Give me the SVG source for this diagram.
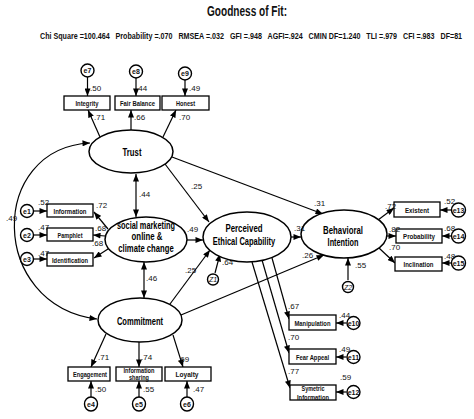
<svg xmlns="http://www.w3.org/2000/svg" width="474" height="419" viewBox="0 0 474 419">
<defs>
<marker id="a" viewBox="0 0 10 8" refX="10" refY="4" markerWidth="8" markerHeight="6" orient="auto-start-reverse" markerUnits="userSpaceOnUse"><path d="M0,0 L10,4 L0,8 z" fill="#000"/></marker>
</defs>
<style>
text{font-family:"Liberation Sans",Arial,sans-serif;fill:#111}
.t{font-size:14px;font-weight:bold}
.s{font-size:9px;font-weight:bold}
.lv{fill:#fff;stroke:#000;stroke-width:1.5}
.bx{fill:#fff;stroke:#000;stroke-width:1.3}
.er{fill:#fff;stroke:#000;stroke-width:1.4}
.ln{fill:#000;font-size:11px;font-weight:bold;text-anchor:middle}
.ln2{fill:#000;font-size:10px;font-weight:bold;text-anchor:middle}
.bl{font-size:8px;font-weight:bold;text-anchor:middle}
.el{font-size:7px;font-weight:bold;text-anchor:middle}
.z{font-size:7px;font-style:italic;text-anchor:middle}
.n{font-size:8px;fill:#222}
.c line,.c path{stroke:#000;stroke-width:1.2;fill:none;marker-end:url(#a)}
.c .d{marker-start:url(#a)}
</style>
<rect width="474" height="419" fill="#fff"/>
<text class="t" x="247" y="16" text-anchor="middle" textLength="80" lengthAdjust="spacingAndGlyphs">Goodness of Fit:</text>
<text class="s" transform="translate(40,39) scale(0.7,1)" x="0" y="0" textLength="603" lengthAdjust="spacingAndGlyphs" xml:space="preserve">Chi Square =100.464   Probability =.070   RMSEA =.032   GFI =.948   AGFI=.924   CMIN DF=1.240   TLI =.979   CFI =.983   DF=81</text>

<g class="c" id="connectors">
<path class="d" d="M90,143 C-12,148 -12,305 97,319"/>
<line x1="87.5" y1="77" x2="87.5" y2="96"/>
<line x1="136" y1="78" x2="136" y2="96"/>
<line x1="185" y1="80" x2="185" y2="96"/>
<line x1="100" y1="137" x2="88" y2="110"/>
<line x1="131" y1="130" x2="131" y2="110"/>
<line x1="163" y1="137" x2="176" y2="110"/>
<line class="d" x1="136" y1="174" x2="136" y2="217"/>
<line x1="165" y1="164" x2="209" y2="222"/>
<line x1="172" y1="157" x2="323" y2="214"/>
<line x1="34" y1="211" x2="47" y2="211"/>
<line x1="34" y1="235" x2="47" y2="235"/>
<line x1="34" y1="259" x2="47" y2="259"/>
<line x1="108" y1="229" x2="94" y2="212"/>
<line x1="105" y1="236" x2="93" y2="235"/>
<line x1="108" y1="249" x2="94" y2="258"/>
<line x1="187" y1="240" x2="203" y2="240"/>
<line class="d" x1="144" y1="262" x2="144" y2="298"/>
<line x1="170" y1="304" x2="210" y2="250"/>
<line x1="181" y1="315" x2="324" y2="255"/>
<line x1="215" y1="273" x2="220" y2="254"/>
<line x1="348" y1="280" x2="348" y2="258"/>
<line x1="291" y1="237" x2="301" y2="237"/>
<line x1="378" y1="220" x2="394" y2="208"/>
<line x1="387" y1="236" x2="396" y2="236"/>
<line x1="379" y1="248" x2="395" y2="263"/>
<line x1="451" y1="210" x2="440" y2="210"/>
<line x1="451" y1="236" x2="442" y2="236"/>
<line x1="451" y1="263" x2="442" y2="263"/>
<line x1="272" y1="258" x2="289" y2="319"/>
<line x1="262" y1="260" x2="289" y2="353"/>
<line x1="252" y1="262" x2="290" y2="388"/>
<line x1="346.5" y1="323" x2="336" y2="323"/>
<line x1="346.5" y1="357" x2="336" y2="357"/>
<line x1="346.5" y1="392" x2="336" y2="392"/>
<line x1="106" y1="334" x2="91" y2="367"/>
<line x1="139" y1="342" x2="139" y2="367"/>
<line x1="173" y1="335" x2="183" y2="367"/>
<line x1="91" y1="397" x2="91" y2="381"/>
<line x1="139" y1="397" x2="139" y2="381"/>
<line x1="187" y1="397" x2="187" y2="381"/>
</g>

<g id="trust"><ellipse class="lv" cx="131" cy="151.5" rx="42" ry="21.5"/><text class="ln" transform="translate(132,156) scale(0.7,1)" x="0" y="0" textLength="27" lengthAdjust="spacingAndGlyphs">Trust</text></g>
<g id="social"><ellipse class="lv" cx="146" cy="239.5" rx="41" ry="22.5"/>
<text class="ln2" transform="translate(146,228.5) scale(0.7,1)" x="0" y="0" textLength="83" lengthAdjust="spacingAndGlyphs">social marketing</text>
<text class="ln2" transform="translate(147,240) scale(0.7,1)" x="0" y="0" textLength="44" lengthAdjust="spacingAndGlyphs">online &amp;</text>
<text class="ln2" transform="translate(146,251.5) scale(0.7,1)" x="0" y="0" textLength="79" lengthAdjust="spacingAndGlyphs">climate change</text></g>
<g id="commitment"><ellipse class="lv" cx="140" cy="320" rx="42" ry="22"/><text class="ln" transform="translate(140,325) scale(0.7,1)" x="0" y="0" textLength="66" lengthAdjust="spacingAndGlyphs">Commitment</text></g>
<g id="perceived"><ellipse class="lv" cx="247" cy="237" rx="44" ry="25"/>
<text class="ln" transform="translate(244,232) scale(0.7,1)" x="0" y="0" textLength="53" lengthAdjust="spacingAndGlyphs">Perceived</text>
<text class="ln" transform="translate(244,245) scale(0.7,1)" x="0" y="0" textLength="89" lengthAdjust="spacingAndGlyphs">Ethical Capability</text></g>
<g id="behavioral"><ellipse class="lv" cx="344" cy="234" rx="43" ry="24"/>
<text class="ln2" transform="translate(343,234) scale(0.7,1)" x="0" y="0" textLength="57" lengthAdjust="spacingAndGlyphs">Behavioral</text>
<text class="ln2" transform="translate(343,245.5) scale(0.7,1)" x="0" y="0" textLength="44" lengthAdjust="spacingAndGlyphs">Intention</text></g>

<g id="integrity"><rect class="bx" x="64" y="96" width="46" height="14"/><text class="bl" x="87" y="106" textLength="23" lengthAdjust="spacingAndGlyphs">Integrity</text></g>
<g id="fairbalance"><rect class="bx" x="115" y="96" width="45" height="14"/><text class="bl" x="137.5" y="106" textLength="35" lengthAdjust="spacingAndGlyphs">Fair Balance</text></g>
<g id="honest"><rect class="bx" x="162" y="96" width="47" height="14"/><text class="bl" x="185.5" y="106" textLength="19" lengthAdjust="spacingAndGlyphs">Honest</text></g>
<g id="information"><rect class="bx" x="47" y="204" width="46" height="13"/><text class="bl" x="70" y="213.5" textLength="33" lengthAdjust="spacingAndGlyphs">Information</text></g>
<g id="pamphlet"><rect class="bx" x="47" y="228" width="46" height="13"/><text class="bl" x="70" y="237.5" textLength="25" lengthAdjust="spacingAndGlyphs">Pamphlet</text></g>
<g id="identification"><rect class="bx" x="47" y="253" width="46" height="13"/><text class="bl" x="70" y="262.5" textLength="36" lengthAdjust="spacingAndGlyphs">Identification</text></g>
<g id="engagement"><rect class="bx" x="68" y="367" width="42" height="14"/><text class="bl" x="90" y="377" textLength="34" lengthAdjust="spacingAndGlyphs">Engagement</text></g>
<g id="infosharing"><rect class="bx" x="116" y="367" width="46" height="14"/><text class="bl" x="139" y="372.5" textLength="31" lengthAdjust="spacingAndGlyphs">Information</text><text class="bl" x="139" y="380" textLength="20" lengthAdjust="spacingAndGlyphs">sharing</text></g>
<g id="loyalty"><rect class="bx" x="165" y="367" width="46" height="14"/><text class="bl" x="187" y="377" textLength="23" lengthAdjust="spacingAndGlyphs">Loyalty</text></g>
<g id="existent"><rect class="bx" x="394" y="202" width="46" height="15"/><text class="bl" x="417" y="212.5" textLength="24" lengthAdjust="spacingAndGlyphs">Existent</text></g>
<g id="probability"><rect class="bx" x="396" y="229" width="46" height="14"/><text class="bl" x="419" y="239" textLength="32" lengthAdjust="spacingAndGlyphs">Probability</text></g>
<g id="inclination"><rect class="bx" x="395" y="257" width="47" height="14"/><text class="bl" x="418.5" y="267" textLength="30" lengthAdjust="spacingAndGlyphs">Inclination</text></g>
<g id="manipulation"><rect class="bx" x="289" y="315" width="47" height="15"/><text class="bl" x="312.5" y="325.5" textLength="36" lengthAdjust="spacingAndGlyphs">Manipulation</text></g>
<g id="fearappeal"><rect class="bx" x="289" y="349" width="47" height="15"/><text class="bl" x="312.5" y="359.5" textLength="33" lengthAdjust="spacingAndGlyphs">Fear Appeal</text></g>
<g id="symetric"><rect class="bx" x="290" y="385" width="46" height="15"/><text class="bl" x="313" y="391" textLength="23" lengthAdjust="spacingAndGlyphs">Symetric</text><text class="bl" x="313" y="399.5" textLength="32" lengthAdjust="spacingAndGlyphs">Information</text></g>

<g id="e1"><ellipse class="er" cx="27" cy="211" rx="6.5" ry="6.5"/><text class="el" x="27" y="213.5">e1</text></g>
<g id="e2"><ellipse class="er" cx="27" cy="235" rx="6.5" ry="6.5"/><text class="el" x="27" y="237.5">e2</text></g>
<g id="e3"><ellipse class="er" cx="27" cy="259" rx="6.5" ry="6.5"/><text class="el" x="27" y="261.5">e3</text></g>
<g id="e4"><ellipse class="er" cx="91" cy="404" rx="6.5" ry="7"/><text class="el" x="91" y="406.5">e4</text></g>
<g id="e5"><ellipse class="er" cx="139" cy="404" rx="6.5" ry="7"/><text class="el" x="139" y="406.5">e5</text></g>
<g id="e6"><ellipse class="er" cx="187" cy="404" rx="6.5" ry="7"/><text class="el" x="187" y="406.5">e6</text></g>
<g id="e7"><ellipse class="er" cx="87.5" cy="70.5" rx="6.5" ry="6.5"/><text class="el" x="87.5" y="73">e7</text></g>
<g id="e8"><ellipse class="er" cx="136" cy="71.5" rx="6.5" ry="6.5"/><text class="el" x="136" y="74">e8</text></g>
<g id="e9"><ellipse class="er" cx="185" cy="73.5" rx="6.5" ry="6.5"/><text class="el" x="185" y="76">e9</text></g>
<g id="e10"><ellipse class="er" cx="353.5" cy="323" rx="6.5" ry="6.5"/><text class="el" x="353.5" y="325.5">e10</text></g>
<g id="e11"><ellipse class="er" cx="353.5" cy="357" rx="6.5" ry="6.5"/><text class="el" x="353.5" y="359.5">e11</text></g>
<g id="e12"><ellipse class="er" cx="353.5" cy="392" rx="6.5" ry="6.5"/><text class="el" x="353.5" y="394.5">e12</text></g>
<g id="e13"><ellipse class="er" cx="458.5" cy="210" rx="7" ry="7"/><text class="el" x="458.5" y="212.5">e13</text></g>
<g id="e14"><ellipse class="er" cx="458.5" cy="236" rx="7" ry="7"/><text class="el" x="458.5" y="238.5">e14</text></g>
<g id="e15"><ellipse class="er" cx="458.5" cy="263" rx="7" ry="7"/><text class="el" x="458.5" y="265.5">e15</text></g>
<g id="z1"><ellipse class="er" cx="213" cy="279.5" rx="5.5" ry="5.5"/><text class="z" x="213" y="282">Z1</text></g>
<g id="z2"><ellipse class="er" cx="348" cy="287" rx="5.5" ry="5.5"/><text class="z" x="348" y="289.5">Z2</text></g>

<g id="labels" class="n">
<text x="90" y="91">.50</text><text x="136" y="91">.44</text><text x="189" y="91">.49</text>
<text x="94" y="120">.71</text><text x="134" y="120">.66</text><text x="179" y="120">.70</text>
<text x="191" y="189">.25</text><text x="139" y="197">.44</text>
<text x="6" y="221">.49</text>
<text x="38" y="205">.52</text><text x="38" y="230">.47</text><text x="38" y="256">.47</text>
<text x="96" y="208">.72</text><text x="95" y="231">.68</text><text x="92" y="246">.68</text>
<text x="187" y="232">.49</text><text x="146" y="281">.46</text><text x="185" y="273">.25</text>
<text x="222" y="265">.64</text>
<text x="314" y="206">.31</text><text x="294" y="231">.31</text><text x="302" y="258">.26</text><text x="355" y="268">.55</text>
<text x="385" y="209">.72</text><text x="389" y="232">.82</text><text x="389" y="250">.70</text>
<text x="444" y="204">.52</text><text x="444" y="231">.68</text><text x="444" y="259">.48</text>
<text x="288" y="309">.67</text><text x="288" y="340">.70</text><text x="288" y="374">.77</text>
<text x="339" y="318">.44</text><text x="339" y="352">.49</text><text x="340" y="380">.59</text>
<text x="98" y="360">.71</text><text x="141" y="360">.74</text><text x="178" y="362">.69</text>
<text x="95" y="392">.50</text><text x="143" y="392">.55</text><text x="193" y="392">.47</text>
</g>
</svg>
